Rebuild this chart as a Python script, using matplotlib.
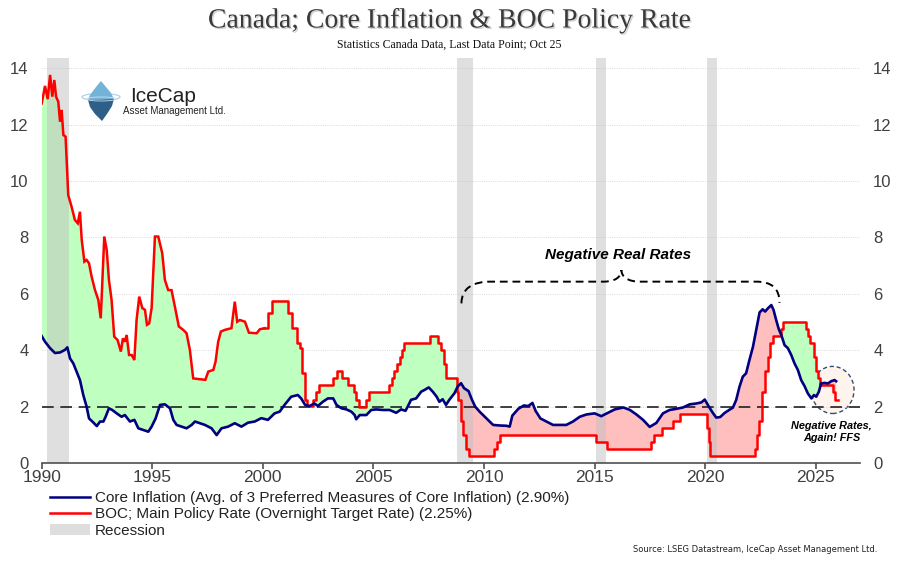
import numpy as np
import matplotlib
matplotlib.use("Agg")
import matplotlib.pyplot as plt
import matplotlib.patheffects as pe
from matplotlib.lines import Line2D
from matplotlib.patches import Patch, Polygon, Ellipse, PathPatch
from matplotlib.path import Path

# ---- data ----
core_dates = [1990.0, 1990.15, 1990.38, 1990.6, 1990.83, 1991.05, 1991.16, 1991.28, 1991.43, 1991.58,
              1991.73, 1991.88, 1992.03, 1992.14, 1992.29, 1992.49, 1992.64, 1992.79, 1992.89, 1993.04,
              1993.19, 1993.39, 1993.61, 1993.76, 1993.99, 1994.19, 1994.37, 1994.6, 1994.82, 1994.97,
              1995.15, 1995.35, 1995.57, 1995.8, 1995.95, 1996.1, 1996.32, 1996.55, 1996.78, 1996.93,
              1997.15, 1997.38, 1997.68, 1997.91, 1998.13, 1998.43, 1998.73, 1999.03, 1999.33, 1999.63,
              1999.93, 2000.23, 2000.53, 2000.76, 2000.98, 2001.28, 2001.58, 2001.73, 2001.91, 2002.1,
              2002.33, 2002.49, 2002.71, 2002.94, 2003.18, 2003.33, 2003.55, 2003.78, 2004.0, 2004.15,
              2004.22, 2004.38, 2004.68, 2004.9, 2005.12, 2005.42, 2005.73, 2006.03, 2006.25, 2006.45,
              2006.55, 2006.7, 2006.93, 2007.16, 2007.31, 2007.5, 2007.68, 2007.86, 2007.98, 2008.13,
              2008.28, 2008.43, 2008.66, 2008.81, 2008.96, 2009.1, 2009.3, 2009.45, 2009.6, 2009.8,
              2010.1, 2010.41, 2010.71, 2011.01, 2011.16, 2011.28, 2011.55, 2011.8, 2012.0, 2012.19,
              2012.33, 2012.55, 2012.82, 2013.12, 2013.42, 2013.72, 2014.02, 2014.33, 2014.63, 2015.0,
              2015.3, 2015.6, 2015.91, 2016.3, 2016.6, 2016.89, 2017.19, 2017.49, 2017.79, 2018.09,
              2018.39, 2018.69, 2019.0, 2019.3, 2019.6, 2019.83, 2019.98, 2020.15, 2020.35, 2020.5,
              2020.68, 2020.87, 2021.1, 2021.25, 2021.4, 2021.55, 2021.7, 2021.85, 2022.0, 2022.16,
              2022.31, 2022.46, 2022.6, 2022.71, 2022.83, 2022.99, 2023.09, 2023.21, 2023.33, 2023.44,
              2023.59, 2023.74, 2023.89, 2024.04, 2024.19, 2024.34, 2024.49, 2024.64, 2024.8, 2024.92,
              2025.02, 2025.14, 2025.24, 2025.4, 2025.55, 2025.7, 2025.85, 2025.92]
core_vals = [4.5, 4.3, 4.07, 3.9, 3.92, 4.01, 4.1, 3.71, 3.53, 3.24,
             2.94, 2.41, 2.0, 1.58, 1.47, 1.31, 1.47, 1.47, 1.64, 1.94,
             1.88, 1.76, 1.64, 1.7, 1.47, 1.53, 1.23, 1.17, 1.11, 1.29,
             1.58, 2.06, 2.08, 1.94, 1.53, 1.35, 1.29, 1.23, 1.35, 1.47,
             1.41, 1.35, 1.23, 0.99, 1.23, 1.29, 1.41, 1.29, 1.43, 1.47,
             1.59, 1.53, 1.76, 1.82, 2.06, 2.35, 2.41, 2.29, 2.06, 2.02,
             2.11, 2.02, 2.17, 2.29, 2.29, 2.06, 1.94, 1.9, 1.82, 1.7,
             1.55, 1.7, 1.7, 1.88, 1.9, 1.88, 1.88, 1.78, 1.9, 1.85,
             2.0, 2.24, 2.29, 2.53, 2.59, 2.68, 2.53, 2.35, 2.17, 2.26,
             2.06, 2.24, 2.47, 2.71, 2.83, 2.65, 2.55, 2.25, 2.0, 1.82,
             1.59, 1.35, 1.33, 1.32, 1.29, 1.68, 1.92, 2.04, 2.02, 2.13,
             1.85, 1.58, 1.47, 1.35, 1.35, 1.35, 1.47, 1.64, 1.72, 1.76,
             1.66, 1.78, 1.9, 1.97, 1.88, 1.72, 1.53, 1.28, 1.42, 1.76,
             1.88, 1.92, 1.97, 2.08, 2.11, 2.15, 2.25, 2.02, 1.77, 1.61,
             1.63, 1.77, 1.89, 1.96, 2.23, 2.7, 3.06, 3.18, 3.65, 4.12,
             4.72, 5.34, 5.45, 5.37, 5.48, 5.6, 5.43, 5.07, 4.74, 4.54,
             4.18, 4.07, 3.83, 3.53, 3.3, 2.94, 2.73, 2.47, 2.29, 2.41,
             2.35, 2.53, 2.82, 2.84, 2.82, 2.9, 2.94, 2.9]

# bank rate floated weekly until ~1999 (drawn as a line), overnight target after (drawn as steps)
boc_early_dates = [1990.0, 1990.15, 1990.27, 1990.38, 1990.48, 1990.57, 1990.65, 1990.75, 1990.83, 1990.9,
                   1990.98, 1991.08, 1991.2, 1991.35, 1991.5, 1991.63, 1991.73, 1991.81, 1991.93, 1992.03,
                   1992.14, 1992.26, 1992.41, 1992.56, 1992.67, 1992.83, 1992.94, 1993.04, 1993.16, 1993.28,
                   1993.43, 1993.58, 1993.67, 1993.76, 1993.84, 1993.95, 1994.07, 1994.19, 1994.29, 1994.41,
                   1994.55, 1994.67, 1994.76, 1994.86, 1994.97, 1995.12, 1995.27, 1995.45, 1995.57, 1995.72,
                   1995.87, 1996.02, 1996.2, 1996.4, 1996.55, 1996.7, 1996.85, 1997.15, 1997.4, 1997.53,
                   1997.76, 1997.86, 1997.98, 1998.1, 1998.28, 1998.58, 1998.73, 1998.84, 1998.96, 1999.19,
                   1999.37, 1999.72, 1999.86, 2000.07]
boc_early_vals = [12.75, 13.37, 12.9, 13.76, 12.99, 13.58, 12.99, 12.81, 12.1, 12.52,
                  11.63, 11.57, 9.5, 9.09, 8.62, 8.5, 8.91, 7.91, 7.14, 7.2,
                  7.08, 6.6, 6.13, 5.78, 5.13, 8.03, 7.55, 6.49, 5.78, 4.48,
                  4.36, 3.95, 4.42, 4.3, 4.54, 3.83, 3.83, 3.65, 5.07, 5.9,
                  5.49, 5.43, 4.9, 4.95, 5.49, 8.03, 8.03, 7.44, 6.49, 6.13,
                  6.13, 5.55, 4.84, 4.72, 4.6, 4.01, 3.0, 2.97, 2.95, 3.24,
                  3.3, 3.59, 4.3, 4.66, 4.72, 4.78, 5.72, 5.01, 5.07, 5.01,
                  4.62, 4.6, 4.74, 4.78]
boc_dates = [2000.07, 2000.25, 2000.43, 2001.0, 2001.15, 2001.3, 2001.53,
             2001.68, 2001.78, 2001.9, 2001.98, 2002.28, 2002.39, 2002.54, 2003.18, 2003.33, 2003.6,
             2003.85, 2004.1, 2004.22, 2004.36, 2004.68, 2004.78, 2005.7, 2005.82, 2005.95, 2006.05,
             2006.18, 2006.28, 2006.38, 2007.55, 2007.93, 2008.07, 2008.18, 2008.28, 2008.78, 2008.83,
             2008.95, 2009.07, 2009.17, 2009.3, 2010.44, 2010.59, 2010.74, 2015.06, 2015.54, 2017.55,
             2017.7, 2018.03, 2018.56, 2018.86, 2020.1, 2020.16, 2020.24, 2022.23, 2022.33, 2022.45,
             2022.58, 2022.7, 2022.82, 2022.93, 2023.05, 2023.43, 2023.52, 2024.54, 2024.64, 2024.76,
             2024.9, 2025.02, 2025.1, 2025.17, 2025.77, 2025.89, 2025.99]
boc_vals = [4.78, 5.31, 5.76, 5.76, 5.31, 4.78, 4.24,
            4.07, 3.18, 2.23, 2.02, 2.25, 2.5, 2.75, 3.0, 3.25, 3.0,
            2.75, 2.5, 2.25, 2.0, 2.25, 2.5, 2.75, 3.0, 3.25, 3.5,
            3.75, 4.0, 4.25, 4.5, 4.25, 4.0, 3.5, 3.0, 2.5, 2.25,
            1.5, 1.0, 0.5, 0.25, 0.5, 0.75, 1.0, 0.75, 0.5, 0.75,
            1.0, 1.25, 1.5, 1.75, 1.25, 0.75, 0.25, 0.5, 1.0, 1.5,
            2.5, 3.25, 3.75, 4.25, 4.5, 4.75, 5.0, 4.75, 4.5, 4.25,
            3.75, 3.25, 3.0, 2.75, 2.5, 2.25, 2.25]

recessions = [(1990.24, 1991.23), (2008.8, 2009.52), (2015.05, 2015.53), (2020.06, 2020.55)]

core_label = "Core Inflation (Avg. of 3 Preferred Measures of Core Inflation) (2.90%)"
boc_label = "BOC; Main Policy Rate (Overnight Target Rate) (2.25%)"

NAVY = "#000080"
RED = "#FF0000"
GREEN = "#BFFFBF"
PINK = "#FFBFBF"
TXT = "#404040"

plt.rcParams['font.family'] = ['Liberation Sans', 'DejaVu Sans']

W, H = 899, 567
fig = plt.figure(figsize=(W / 100, H / 100), dpi=100)
ax = fig.add_axes([41.7 / W, 1 - 463 / H, (860 - 41.7) / W, (463 - 58) / H])

# fill between the two lines on a fine grid
grid = np.arange(core_dates[0], core_dates[-1], 0.005)
core_g = np.interp(grid, core_dates, core_vals)
boc_g = np.where(grid < boc_dates[0],
                 np.interp(grid, boc_early_dates, boc_early_vals),
                 np.array(boc_vals)[np.clip(np.searchsorted(boc_dates, grid, side='right') - 1, 0, None)])
ax.fill_between(grid, core_g, boc_g, where=boc_g >= core_g, interpolate=True,
                color=GREEN, lw=0, zorder=1)
ax.fill_between(grid, core_g, boc_g, where=boc_g < core_g, interpolate=True,
                color=PINK, lw=0, zorder=1)

for a, b in recessions:
    ax.axvspan(a, b, color="#C0C0C0", alpha=0.5, lw=0, zorder=1.5)

ax.axhline(2, color="#202020", lw=1.2, ls=(0, (7, 4)), zorder=2)

ax.plot(boc_early_dates, boc_early_vals, color=RED, lw=1.8, zorder=3, solid_joinstyle='miter')
ax.plot(boc_dates, boc_vals, drawstyle='steps-post', color=RED, lw=1.8, zorder=3)
ax.plot(core_dates, core_vals, color=NAVY, lw=1.9, zorder=4)

# circle highlighting the latest readings
ax.add_patch(Ellipse((2025.76, 2.59), 1.94, 1.67, facecolor="#FFF3EE", edgecolor="#2F4F6F",
                     lw=1.0, ls=(0, (3, 2)), zorder=0.5))
ax.text(2025.72, 1.1, "Negative Rates,\nAgain! FFS", ha='center', va='center', fontsize=7.8,
        fontweight='bold', fontstyle='italic', linespacing=1.2, zorder=5)

# brace over the negative real rate period
verts = [(2008.98, 5.66), (2008.98, 6.2), (2009.5, 6.43), (2010.3, 6.43),
         (2015.4, 6.43),
         (2015.95, 6.43), (2016.2, 6.6), (2016.21, 6.84),
         (2016.22, 6.6), (2016.5, 6.43), (2017.05, 6.43),
         (2022.3, 6.43),
         (2023.0, 6.43), (2023.36, 6.2), (2023.36, 5.68)]
codes = [Path.MOVETO, Path.CURVE4, Path.CURVE4, Path.CURVE4, Path.LINETO,
         Path.CURVE4, Path.CURVE4, Path.CURVE4, Path.CURVE4, Path.CURVE4, Path.CURVE4,
         Path.LINETO, Path.CURVE4, Path.CURVE4, Path.CURVE4]
ax.add_patch(PathPatch(Path(verts, codes), fill=False, edgecolor='black', lw=1.4,
                       ls=(0, (4, 2.5)), zorder=5))
ax.text(2016.05, 7.38, "Negative Real Rates", ha='center', va='center', fontsize=11,
        fontweight='bold', fontstyle='italic', zorder=5)

# axes styling
ax.set_xlim(1990, 2027)
ax.set_ylim(0, 14.36)
ax.set_xticks(range(1990, 2026, 5))
ax.set_yticks(range(0, 15, 2))
ax.grid(axis='y', ls=':', color='#CCCCCC', lw=0.6)
ax.set_axisbelow(True)
for s in ['left', 'right', 'top']:
    ax.spines[s].set_visible(False)
ax.spines['bottom'].set_color('#505050')
ax.spines['bottom'].set_linewidth(1.2)
ax.tick_params(axis='x', direction='out', length=4, width=1.2, color='#505050',
               labelsize=12.5, labelcolor=TXT, pad=1)
ax.tick_params(axis='y', left=False, right=False, labelleft=True, labelright=True,
               labelsize=12, labelcolor=TXT, pad=6)

# titles
fig.text(0.5, 1 - 21 / H, "Canada; Core Inflation & BOC Policy Rate", ha='center', va='center',
         fontsize=20, family='Liberation Serif', color='#3a3a3a',
         path_effects=[pe.withSimplePatchShadow(offset=(1, -1), shadow_rgbFace='#999999', alpha=0.45)])
fig.text(0.5, 1 - 45 / H, "Statistics Canada Data, Last Data Point; Oct 25", ha='center', va='center',
         fontsize=8.5, family='Liberation Serif', color='#111111')

# legend
handles = [Line2D([], [], color=NAVY, lw=1.8), Line2D([], [], color=RED, lw=1.8),
           Patch(facecolor='#DEDEDE', edgecolor='none')]
fig.legend(handles, [core_label, boc_label, "Recession"], loc='upper left',
           bbox_to_anchor=(50 / W, 1 - 491 / H), frameon=False, fontsize=11,
           handlelength=2.6, handletextpad=0.35, labelspacing=0.16, borderaxespad=0,
           borderpad=0, labelcolor='#222222')

fig.text(877 / W, 1 - 549 / H, "Source: LSEG Datastream, IceCap Asset Management Ltd.",
         ha='right', va='center', fontsize=6, family='DejaVu Sans', color='#222222')


# logo
def fp(x, y):
    return (x / W, 1 - y / H)


fig.add_artist(Ellipse(fp(101, 97), 38 / W, 7 / H, transform=fig.transFigure, fill=False,
                       edgecolor='#A8CDE3', lw=0.8))
fig.add_artist(Polygon([fp(101, 81), fp(96, 87), fp(90, 95), fp(88, 100), fp(114, 99),
                        fp(111, 93), fp(106, 87)], closed=True, transform=fig.transFigure,
                       facecolor='#74B2D6', edgecolor='none'))
fig.add_artist(Polygon([fp(88, 100), fp(90, 107), fp(95, 114), fp(102, 121), fp(107, 114),
                        fp(112, 106), fp(114, 99)], closed=True, transform=fig.transFigure,
                       facecolor='#2D5F88', edgecolor='none'))
fig.add_artist(Ellipse(fp(101, 99), 30 / W, 4 / H, transform=fig.transFigure, fill=False,
                       edgecolor='#C8E0EE', lw=0.6))
fig.text(130 / W, 1 - 96 / H, "IceCap", ha='left', va='center', fontsize=15, color='#222222')
fig.text(123 / W, 1 - 111 / H, "Asset Management Ltd.", ha='left', va='center', fontsize=7,
         color='#222222')

fig.savefig("out.png", dpi=100)
